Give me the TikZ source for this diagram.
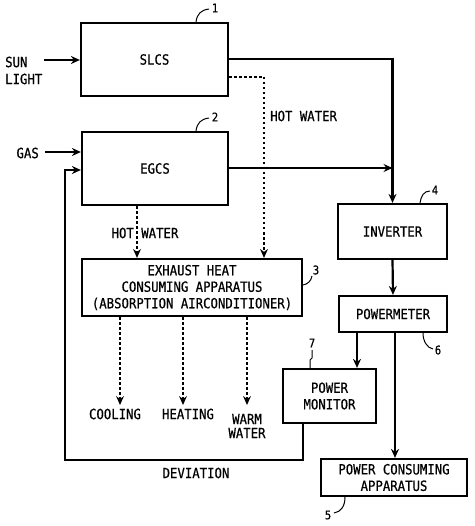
\documentclass[tikz,border=0pt]{standalone}
\usepackage{fontspec}
\setmainfont{DejaVu Sans Mono}[FakeStretch=0.88,FakeBold=0.6]
\usetikzlibrary{arrows.meta}
\begin{document}
\begin{tikzpicture}[x=1pt,y=-1pt,
  box/.style={draw,line width=2.2pt,rectangle,inner sep=0pt,align=center,font=\fontsize{14}{16.5}\selectfont},
  lbl/.style={inner sep=0pt,align=center,font=\fontsize{14}{14}\selectfont},
  num/.style={inner sep=0pt,font=\fontsize{12}{12}\selectfont},
  arr/.style={line width=2.2pt,-{Stealth[length=9pt,width=8pt,inset=3pt]}},
  dotarr/.style={line width=2.5pt,dash pattern=on 2.5pt off 2.5pt,-{Stealth[length=9pt,width=8pt,inset=3pt,line width=0pt]}},
  dotln/.style={line width=2.5pt,dash pattern=on 2.5pt off 2.5pt},
  lead/.style={line width=1pt}]
\useasboundingbox (0,0) rectangle (474,526);

% boxes
\node[box,minimum width=147pt,minimum height=73pt] (slcs) at (154.5,59.5) {SLCS};
\node[box,minimum width=146pt,minimum height=73pt] (egcs) at (155,168.5) {EGCS};
\node[box,minimum width=220pt,minimum height=57pt] (exh) at (192,287.5) {EXHAUST HEAT\\CONSUMING APPARATUS\\(ABSORPTION AIRCONDITIONER)};
\node[box,minimum width=109pt,minimum height=55pt] (inv) at (392.5,231.5) {INVERTER};
\node[box,minimum width=108pt,minimum height=36pt] (pm) at (393,314) {POWERMETER};
\node[box,minimum width=93pt,minimum height=54pt] (mon) at (329.5,396) {POWER\\MONITOR};
\node[box,minimum width=146pt,minimum height=37pt] (pca) at (394,477.5) {POWER CONSUMING\\APPARATUS};

% text labels
\node[lbl,anchor=west] (sunt) at (5,62) {SUN};
\node[lbl,anchor=west] (lightt) at (5,79) {LIGHT};
\node[lbl,anchor=east] (gast) at (39,153) {GAS};
\node[lbl,anchor=west] (hw1) at (270,116) {HOT WATER};
\node[lbl] (hw2) at (145,233) {HOT WATER};
\node[lbl] (cool) at (115,414) {COOLING};
\node[lbl] (heat) at (188,414) {HEATING};
\node[lbl] (warm) at (247,426) {WARM\\WATER};
\node[lbl] (dev) at (196,473) {DEVIATION};

% reference numbers
\node[num] (n1) at (215,8) {1};
\node[num] (n2) at (215,117) {2};
\node[num] (n3) at (316,270) {3};
\node[num] (n4) at (435,190) {4};
\node[num] (n6) at (438,350) {6};
\node[num] (n7) at (312,343) {7};
\node[num] (n5) at (328,515) {5};
\draw[lead] (slcs.north -| 196,0) .. controls (197,14) and (201,10) .. (209,9);
\draw[lead] (egcs.north -| 196,0) .. controls (197,123) and (201,119) .. (209,118);
\draw[lead] (exh.east |- 0,285) .. controls (308,284) and (311,281) .. (312,276);
\draw[lead] (inv.north -| 420,0) .. controls (421,196) and (424,191) .. (430,191);
\draw[lead] (pm.south -| 423,0) .. controls (423,341) and (427,348) .. (433,349);
\draw[lead] (mon.north -| 310,0) -- (310,360) -- (312,358) -- (312,350);
\draw[lead] (pca.south -| 345,0) .. controls (345,506) and (341,512) .. (334,513);

% inputs
\coordinate (sun) at (44,60);
\coordinate (gas) at (45,152);
\draw[arr] (sun) -- (slcs.west |- sun);
\draw[arr] (gas) -- (egcs.west |- gas);

% electrical
\coordinate (j) at (392.5,168);
\draw[arr] (slcs.east |- 0,59) -| (inv.north);
\draw[arr] (egcs.east |- j) -- (j);
\draw[arr] (inv.south) -- (pm.north);
\draw[arr] (pm.south -| 357,0) -- (mon.north -| 357,0);
\draw[arr] (pm.south -| 395,0) -- (pca.north -| 395,0);

% deviation feedback
\draw[arr] (mon.south -| 303,0) -- (303,460) -- (65,460) -- (65,170) -- (egcs.west |- 0,170);

% hot water
\draw[dotln] (slcs.east |- 0,77) -- (264,77);
\draw[dotarr] (264,77) -- (exh.north -| 264,0);
\draw[dotarr] (egcs.south -| 137,0) -- (exh.north -| 137,0);

% outputs
\draw[dotarr] (exh.south -| 120,0) -- (120,405);
\draw[dotarr] (exh.south -| 183,0) -- (183,405);
\draw[dotarr] (exh.south -| 247,0) -- (247,405);
\end{tikzpicture}
\end{document}
